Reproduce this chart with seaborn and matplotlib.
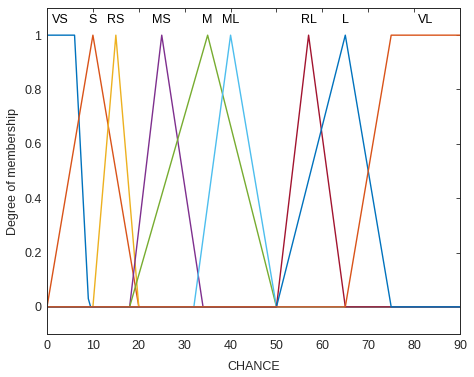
import numpy as np
import pandas as pd
import matplotlib
matplotlib.use('Agg')
import matplotlib.pyplot as plt
import seaborn as sns

# membership functions for CHANCE (breakpoints)
names = ['VS', 'S', 'RS', 'MS', 'M', 'ML', 'RL', 'L', 'VL']
mf_x = [[0, 6, 9, 9.5], [0, 10, 20], [10, 15, 20], [18, 25, 34], [18, 35, 50],
        [32, 40, 50], [50, 57, 65], [50, 65, 75], [65, 75, 90]]
mf_y = [[1, 1, 0.03, 0], [0, 1, 0], [0, 1, 0], [0, 1, 0], [0, 1, 0],
        [0, 1, 0], [0, 1, 0], [0, 1, 0], [0, 1, 1]]
label_x = [3, 10, 15, 25, 35, 40, 57, 65, 82.5]
x_range = [0, 90]
colors = ['#0072BD', '#D95319', '#EDB120', '#7E2F8E', '#77AC30',
          '#4DBEEE', '#A2142F', '#0072BD', '#D95319']

# build a long table, each mf is zero outside its support
rows = []
for name, xs, ys in zip(names, mf_x, mf_y):
    xs, ys = list(xs), list(ys)
    if xs[0] > x_range[0]:
        xs = [x_range[0]] + xs
        ys = [0] + ys
    if xs[-1] < x_range[1]:
        xs = xs + [x_range[1]]
        ys = ys + [0]
    for x, y in zip(xs, ys):
        rows.append({'mf': name, 'x': x, 'y': y})
df = pd.DataFrame(rows)

sns.set_style('white')
plt.rcParams['font.family'] = ['Liberation Sans', 'DejaVu Sans']

fig = plt.figure(figsize=(4.74, 3.77), dpi=100)
ax = fig.add_axes([0.0992, 0.114, 0.8713, 0.8648])

for i, name in enumerate(names):
    sub = df[df['mf'] == name]
    sns.lineplot(data=sub, x='x', y='y', color=colors[i], sort=False,
                 estimator=None, linewidth=1.0, ax=ax)

for name, lx in zip(names, label_x):
    ax.text(lx, 1.055, name, ha='center', va='center', fontsize=9, color='black')

ax.set_xlim(0, 90)
ax.set_ylim(-0.1, 1.1)
ax.set_xticks(np.arange(0, 91, 10))
ax.set_yticks([0, 0.2, 0.4, 0.6, 0.8, 1])
ax.set_yticklabels(['0', '0.2', '0.4', '0.6', '0.8', '1'])
ax.set_xlabel('CHANCE', fontsize=9, color='#262626', labelpad=7)
ax.set_ylabel('Degree of membership', fontsize=9, color='#262626', labelpad=4)
ax.tick_params(direction='in', top=True, right=True, length=3, width=0.6,
               labelsize=9, colors='#262626', pad=4)
for sp in ax.spines.values():
    sp.set_visible(True)
    sp.set_color('#262626')
    sp.set_linewidth(0.7)

fig.savefig('out.png', dpi=100)
